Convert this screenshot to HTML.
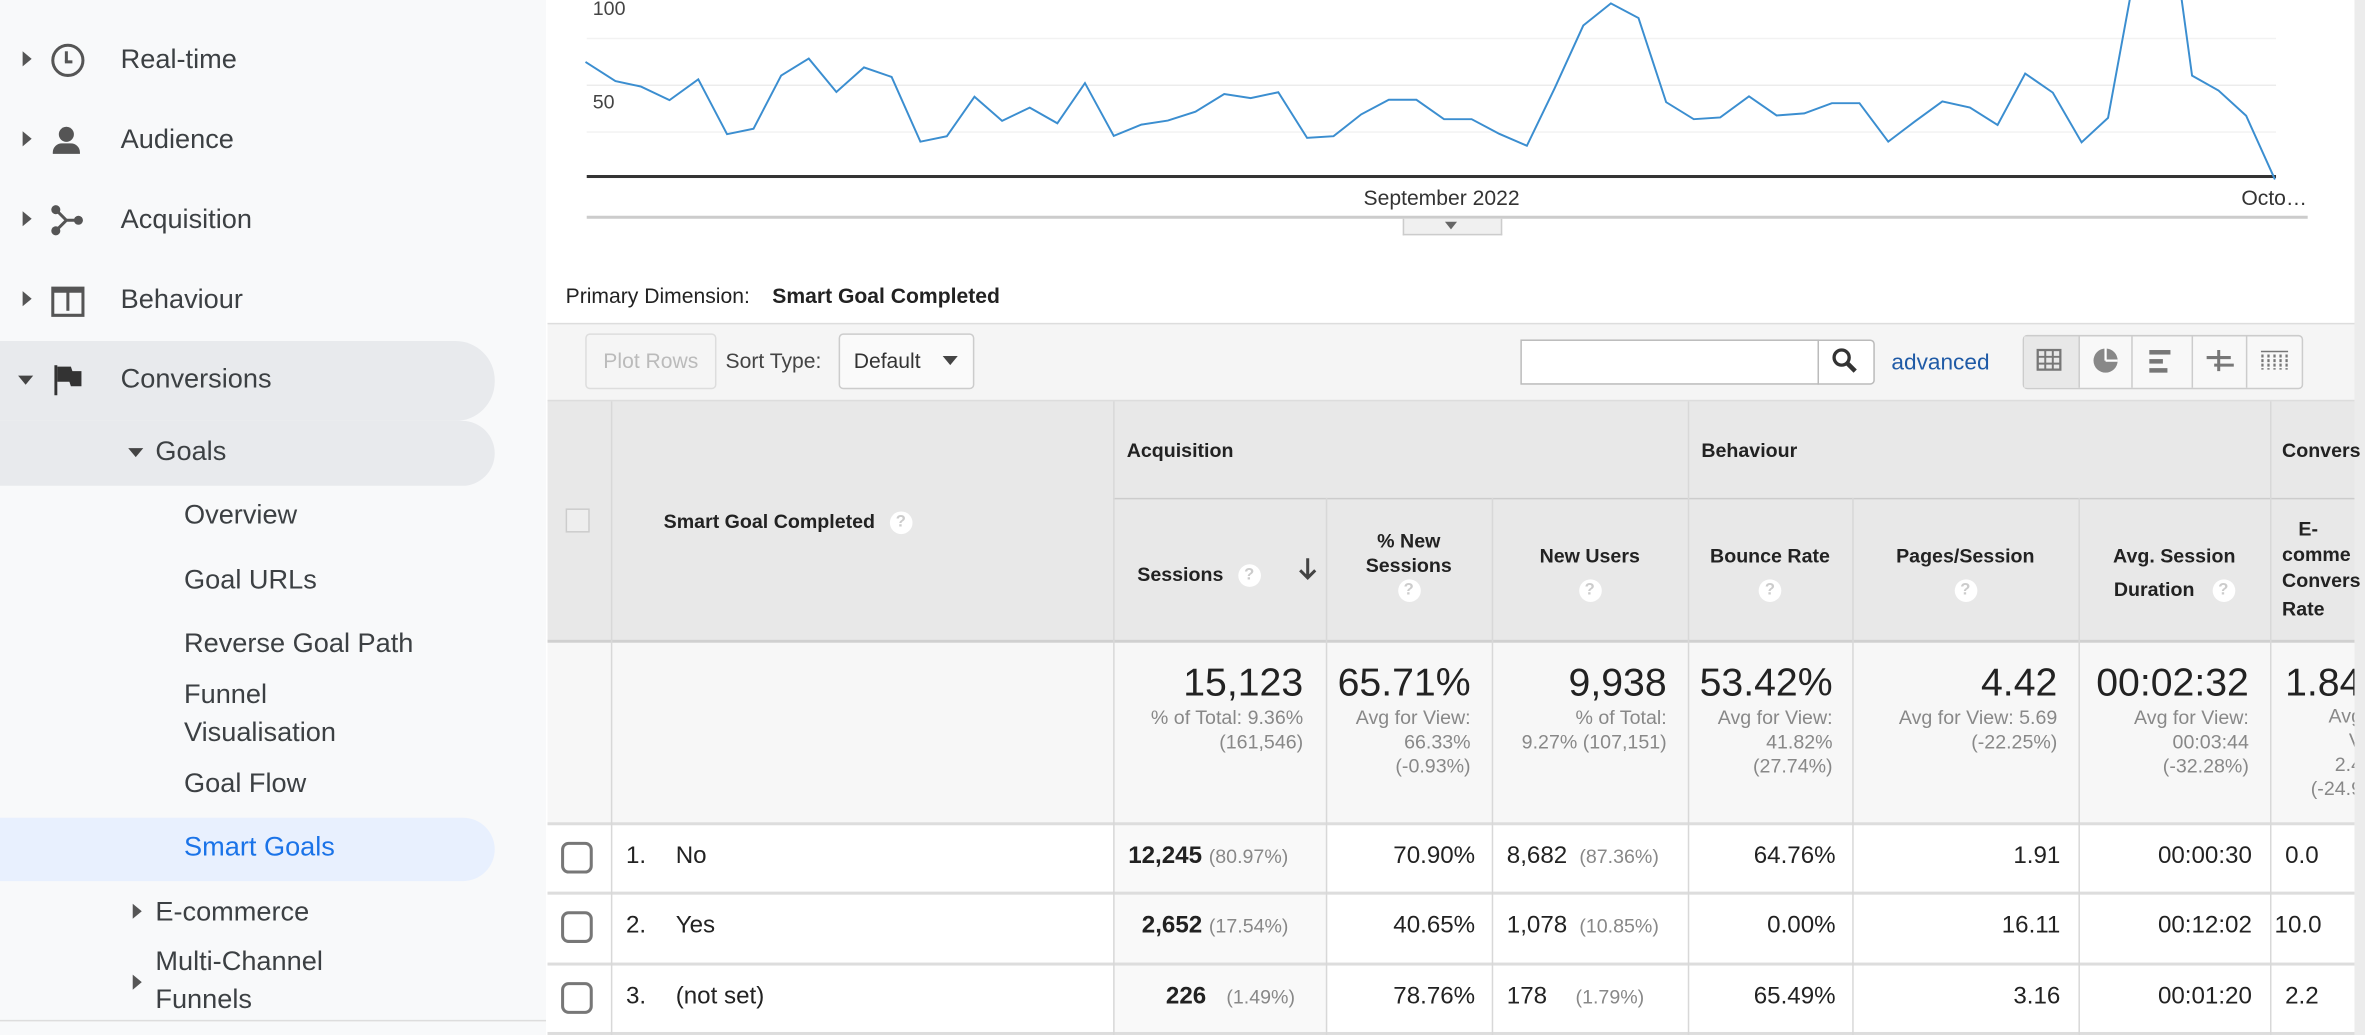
<!DOCTYPE html>
<html><head><meta charset="utf-8"><style>
html,body{margin:0;padding:0;width:2365px;height:1035px;overflow:hidden;background:#fff}
#r{position:absolute;left:0;top:0;width:1568px;height:686px;transform:scale(1.5083,1.5087);transform-origin:0 0;font-family:"Liberation Sans",sans-serif;color:#222}
.a{position:absolute;white-space:nowrap}
.nav{font-size:18px;color:#3c4043}
.sub{font-size:18px;color:#3c4043}
.tri{position:absolute;width:0;height:0}
.h{font-size:13px;font-weight:bold;color:#222}
.q{display:inline-block;width:15px;height:15px;border-radius:50%;background:#fff;color:#ccc;font-size:11px;text-align:center;line-height:15px;font-weight:bold;vertical-align:middle}
.big{font-size:26px;color:#222}
.sm{font-size:13px;color:#888;line-height:16px}
.d{font-size:16px;color:#222}
.g{font-size:13px;color:#888}
.vl{position:absolute;width:1px;background:#d8d8d8}
.hl{position:absolute;height:1px;background:#ddd}
.cb{position:absolute;width:17px;height:17px;border:2px solid #777;border-radius:5px;background:#fff}
</style></head><body><div id="r">
<div class="a" style="left:0;top:0;width:362px;height:686px;background:#f8f9fa"></div>
<div class="a" style="left:0;top:226px;width:328px;height:53px;background:#e8eaed;border-radius:0 26px 26px 0"></div>
<div class="a" style="left:0;top:279px;width:328px;height:43px;background:#e8eaed;border-radius:0 22px 22px 0"></div>
<div class="a" style="left:0;top:542px;width:328px;height:42px;background:#e8f0fe;border-radius:0 21px 21px 0"></div>
<div class="tri" style="left:15px;top:34px;border-left:6px solid #555;border-top:5px solid transparent;border-bottom:5px solid transparent"></div>
<div class="tri" style="left:15px;top:87px;border-left:6px solid #555;border-top:5px solid transparent;border-bottom:5px solid transparent"></div>
<div class="tri" style="left:15px;top:140px;border-left:6px solid #555;border-top:5px solid transparent;border-bottom:5px solid transparent"></div>
<div class="tri" style="left:15px;top:193px;border-left:6px solid #555;border-top:5px solid transparent;border-bottom:5px solid transparent"></div>
<div class="tri" style="left:12px;top:249px;border-top:6px solid #444;border-left:5px solid transparent;border-right:5px solid transparent"></div>
<div class="tri" style="left:85px;top:297px;border-top:6px solid #444;border-left:5px solid transparent;border-right:5px solid transparent"></div>
<div class="tri" style="left:88px;top:599px;border-left:6px solid #555;border-top:5px solid transparent;border-bottom:5px solid transparent"></div>
<div class="tri" style="left:88px;top:646px;border-left:6px solid #555;border-top:5px solid transparent;border-bottom:5px solid transparent"></div>
<div class="a" style="left:34px;top:29px;width:18px;height:18px;border:2px solid #555;border-radius:50%"></div>
<div class="a" style="left:43px;top:34px;width:2px;height:7px;background:#555"></div>
<div class="a" style="left:43px;top:40px;width:5px;height:2px;background:#555"></div>
<div class="a" style="left:39px;top:84px;width:10px;height:10px;border-radius:50%;background:#555"></div>
<div class="a" style="left:35px;top:95px;width:18px;height:7px;border-radius:6px 6px 0 0;background:#555"></div>
<svg class="a" style="left:33px;top:135px" width="24" height="22"><circle cx="4" cy="4" r="3" fill="#555"/><circle cx="4" cy="18" r="3" fill="#555"/><circle cx="19" cy="11" r="3" fill="#555"/><path d="M4 4 L11 11 L19 11 M11 11 L4 18" stroke="#555" stroke-width="2" fill="none"/></svg>
<div class="a" style="left:34px;top:190px;width:18px;height:14px;border:2px solid #555;border-top-width:4px"></div>
<div class="a" style="left:44px;top:193px;width:2px;height:13px;background:#555"></div>
<svg class="a" style="left:36px;top:242px" width="20" height="22"><path d="M1 0 V20" stroke="#333" stroke-width="2"/><path d="M2 1 H11 L12 4 H18 V14 H11 L10 11 H2Z" fill="#333"/></svg>
<div class="a nav" style="left:80px;top:29px">Real-time</div>
<div class="a nav" style="left:80px;top:82px">Audience</div>
<div class="a nav" style="left:80px;top:135px">Acquisition</div>
<div class="a nav" style="left:80px;top:188px">Behaviour</div>
<div class="a nav" style="left:80px;top:241px">Conversions</div>
<div class="a nav" style="left:103px;top:289px">Goals</div>
<div class="a sub" style="left:122px;top:331px">Overview</div>
<div class="a sub" style="left:122px;top:374px">Goal URLs</div>
<div class="a sub" style="left:122px;top:416px">Reverse Goal Path</div>
<div class="a sub" style="left:122px;top:450px">Funnel</div>
<div class="a sub" style="left:122px;top:475px">Visualisation</div>
<div class="a sub" style="left:122px;top:509px">Goal Flow</div>
<div class="a sub" style="left:122px;top:551px;color:#1a73e8">Smart Goals</div>
<div class="a sub" style="left:103px;top:594px">E-commerce</div>
<div class="a sub" style="left:103px;top:627px">Multi-Channel</div>
<div class="a sub" style="left:103px;top:652px">Funnels</div>
<div class="a" style="left:0;top:676px;width:362px;height:1px;background:#ddd"></div>
<div class="a" style="left:1561px;top:0;width:7px;height:686px;background:#ececec"></div>
<div class="a" style="left:389px;top:25px;width:1120px;height:1px;background:#f2f2f2"></div>
<div class="a" style="left:389px;top:56px;width:1120px;height:1px;background:#ececec"></div>
<div class="a" style="left:389px;top:87px;width:1120px;height:1px;background:#f2f2f2"></div>
<div class="a" style="left:389px;top:116px;width:1120px;height:2px;background:#333"></div>
<div class="a" style="left:393px;top:-2px;font-size:13px;color:#444">100</div>
<div class="a" style="left:393px;top:60px;font-size:13px;color:#444">50</div>
<svg class="a" style="left:0;top:0" width="1568" height="130"><g transform="matrix(0.763,0,0,0.2257,371.4,0)"><polyline vector-effect="non-scaling-stroke" fill="none" stroke="#3b8ed0" stroke-width="1.3" points="22,182 48,238 70,254 95,294 120,233 145,394 168,378 192,222 216,172 240,270 264,198 288,226 313,416 336,400 360,284 384,355 408,316 432,362 456,244 481,399 505,366 528,354 552,328 577,276 600,288 624,271 649,405 672,400 696,336 720,293 744,293 768,350 792,350 816,393 840,428 864,260 889,75 913,10 937,53 961,300 985,350 1008,345 1033,283 1057,339 1081,333 1105,303 1129,303 1154,416 1177,357 1201,298 1225,316 1249,367 1273,216 1297,272 1322,418 1345,346 1366,-40 1370,-200 1405,-200 1409,0 1418,222 1441,266 1465,340 1490,527"/></g></svg>
<div class="a" style="left:904px;top:123px;font-size:14px;color:#333">September 2022</div>
<div class="a" style="left:1486px;top:123px;font-size:14px;color:#333">Octo…</div>
<div class="a" style="left:389px;top:143px;width:1141px;height:2px;background:#ccc"></div>
<div class="a" style="left:930px;top:145px;width:64px;height:10px;background:#f0f0f0;border:1px solid #ccc;border-top:none"></div>
<div class="tri" style="left:958px;top:147px;border-top:5px solid #666;border-left:4px solid transparent;border-right:4px solid transparent"></div>
<div class="a" style="left:375px;top:188px;font-size:14px;color:#222">Primary Dimension:</div>
<div class="a" style="left:512px;top:188px;font-size:14px;font-weight:bold;color:#222">Smart Goal Completed</div>
<div class="a" style="left:363px;top:214px;width:1198px;height:50px;background:#f5f5f5;border-top:1px solid #ddd;border-bottom:2px solid #ddd"></div>
<div class="a" style="left:388px;top:221px;width:85px;height:35px;border:1px solid #ddd;border-radius:3px;font-size:14px;color:#bbb;text-align:center;line-height:35px">Plot Rows</div>
<div class="a" style="left:481px;top:231px;font-size:14px;color:#444">Sort Type:</div>
<div class="a" style="left:556px;top:221px;width:88px;height:35px;border:1px solid #ccc;border-radius:3px;background:#fafafa;font-size:14px;color:#333;line-height:35px;text-indent:9px">Default</div>
<div class="tri" style="left:625px;top:236px;border-top:6px solid #444;border-left:5px solid transparent;border-right:5px solid transparent"></div>
<div class="a" style="left:1008px;top:225px;width:196px;height:28px;border:1px solid #bbb;background:#fff"></div>
<div class="a" style="left:1205px;top:225px;width:36px;height:28px;border:1px solid #bbb;background:#fff;border-radius:0 3px 3px 0"></div>
<svg class="a" style="left:1214px;top:230px" width="18" height="18"><circle cx="7" cy="7" r="5" stroke="#333" stroke-width="2.2" fill="none"/><path d="M11 11 L16 16" stroke="#333" stroke-width="3"/></svg>
<div class="a" style="left:1254px;top:232px;font-size:15px;color:#1f5aa6">advanced</div>
<div class="a" style="left:1341px;top:222px;width:184px;height:34px;border:1px solid #ccc;border-radius:3px;background:#f8f8f8"></div>
<div class="a" style="left:1342px;top:223px;width:36px;height:34px;background:#e8e8e8"></div>
<div class="vl" style="left:1378px;top:223px;height:34px;background:#ccc"></div>
<div class="vl" style="left:1413px;top:223px;height:34px;background:#ccc"></div>
<div class="vl" style="left:1453px;top:223px;height:34px;background:#ccc"></div>
<div class="vl" style="left:1489px;top:223px;height:34px;background:#ccc"></div>
<svg class="a" style="left:1350px;top:231px" width="18" height="16"><rect x="1" y="1" width="15" height="13" fill="none" stroke="#777" stroke-width="1.5"/><path d="M1 5.5H16M1 10H16M6 1V14M11 1V14" stroke="#777" stroke-width="1.3"/></svg>
<svg class="a" style="left:1387px;top:230px" width="18" height="18"><circle cx="9" cy="9" r="8" fill="#888"/><path d="M9 9 V1 M9 9 H17" stroke="#fff" stroke-width="1.5"/></svg>
<div class="a" style="left:1425px;top:232px;width:14px;height:3px;background:#777"></div>
<div class="a" style="left:1425px;top:238px;width:9px;height:3px;background:#777"></div>
<div class="a" style="left:1425px;top:244px;width:12px;height:3px;background:#777"></div>
<svg class="a" style="left:1462px;top:230px" width="20" height="18"><path d="M1 7H17M6 12H19M9 2V16" stroke="#777" stroke-width="2"/></svg>
<svg class="a" style="left:1498px;top:232px" width="20" height="14"><path d="M1 1H19" stroke="#777"/><path d="M2 3V13M6 3V13M10 3V13M14 3V13M18 3V13" stroke="#777" stroke-width="1.5" stroke-dasharray="2 1"/></svg>
<div class="a" style="left:363px;top:266px;width:1198px;height:158px;background:#e8e8e8"></div>
<div class="a" style="left:363px;top:424px;width:1198px;height:121px;background:#f7f7f7"></div>
<div class="a" style="left:738px;top:545px;width:141px;height:140px;background:#f9f9f9"></div>
<div class="hl" style="left:738px;top:330px;width:823px;background:#ccc"></div>
<div class="hl" style="left:363px;top:424px;width:1198px;height:2px;background:#d0d0d0"></div>
<div class="hl" style="left:363px;top:545px;width:1198px;height:2px"></div>
<div class="hl" style="left:363px;top:591px;width:1198px;height:2px"></div>
<div class="hl" style="left:363px;top:638px;width:1198px;height:2px"></div>
<div class="hl" style="left:363px;top:684px;width:1198px;height:2px"></div>
<div class="vl" style="left:405px;top:266px;height:420px"></div>
<div class="vl" style="left:738px;top:266px;height:420px"></div>
<div class="vl" style="left:879px;top:330px;height:356px"></div>
<div class="vl" style="left:989px;top:330px;height:356px"></div>
<div class="vl" style="left:1119px;top:266px;height:420px"></div>
<div class="vl" style="left:1228px;top:330px;height:356px"></div>
<div class="vl" style="left:1378px;top:330px;height:356px"></div>
<div class="vl" style="left:1505px;top:266px;height:420px"></div>
<div class="a" style="left:375px;top:337px;width:14px;height:14px;border:1px solid #ccc;background:#eee"></div>
<div class="a h" style="left:440px;top:338px">Smart Goal Completed <span class="q" style="margin-left:6px">?</span></div>
<div class="a h" style="left:747px;top:291px">Acquisition</div>
<div class="a h" style="left:1128px;top:291px">Behaviour</div>
<div class="a h" style="left:1513px;top:291px">Convers</div>
<div class="a h" style="left:754px;top:373px">Sessions <span class="q" style="margin-left:6px">?</span></div>
<svg class="a" style="left:860px;top:369px" width="14" height="16"><path d="M7 1V14M2 9L7 14L12 9" stroke="#444" stroke-width="2" fill="none"/></svg>
<div class="a h" style="left:879px;top:351px;width:110px;text-align:center;line-height:16px;white-space:normal">% New<br>Sessions<br><span class="q">?</span></div>
<div class="a h" style="left:989px;top:358px;width:130px;text-align:center;line-height:22px">New Users<br><span class="q">?</span></div>
<div class="a h" style="left:1119px;top:358px;width:109px;text-align:center;line-height:22px">Bounce Rate<br><span class="q">?</span></div>
<div class="a h" style="left:1228px;top:358px;width:150px;text-align:center;line-height:22px">Pages/Session<br><span class="q">?</span></div>
<div class="a h" style="left:1378px;top:358px;width:127px;text-align:center;line-height:22px">Avg. Session<br>Duration <span class="q" style="margin-left:8px">?</span></div>
<div class="a h" style="left:1513px;top:342px;line-height:17px">&nbsp;&nbsp;&nbsp;E-<br>comme<br>Convers<br><span style="line-height:22px">Rate</span></div>
<div class="a" style="left:738px;top:437px;width:126px;text-align:right"><div class="big">15,123</div><div class="sm">% of Total: 9.36%<br>(161,546)</div></div>
<div class="a" style="left:879px;top:437px;width:96px;text-align:right"><div class="big">65.71%</div><div class="sm">Avg for View:<br>66.33%<br>(-0.93%)</div></div>
<div class="a" style="left:989px;top:437px;width:116px;text-align:right"><div class="big">9,938</div><div class="sm">% of Total:<br>9.27% (107,151)</div></div>
<div class="a" style="left:1119px;top:437px;width:96px;text-align:right"><div class="big">53.42%</div><div class="sm">Avg for View:<br>41.82%<br>(27.74%)</div></div>
<div class="a" style="left:1228px;top:437px;width:136px;text-align:right"><div class="big">4.42</div><div class="sm">Avg for View: 5.69<br>(-22.25%)</div></div>
<div class="a" style="left:1378px;top:437px;width:113px;text-align:right"><div class="big">00:02:32</div><div class="sm">Avg for View:<br>00:03:44<br>(-32.28%)</div></div>
<div class="a" style="left:1506px;top:437px;width:55px;height:105px;overflow:hidden"><div class="big" style="position:absolute;left:9px;top:0">1.84</div><div class="sm" style="position:absolute;left:16px;top:30px;text-align:right;width:44px">Avg<br>V<br>2.4<br>(-24.9</div></div>
<div class="cb" style="left:372px;top:558px"></div>
<div class="cb" style="left:372px;top:604px"></div>
<div class="cb" style="left:372px;top:651px"></div>
<div class="a d" style="left:415px;top:559px">1.</div><div class="a d" style="left:448px;top:559px">No</div>
<div class="a d" style="left:415px;top:605px">2.</div><div class="a d" style="left:448px;top:605px">Yes</div>
<div class="a d" style="left:415px;top:652px">3.</div><div class="a d" style="left:448px;top:652px">(not set)</div>
<div class="a d" style="left:748px;top:559px"><b>12,245</b> <span class="g">(80.97%)</span></div>
<div class="a d" style="left:757px;top:605px"><b>2,652</b> <span class="g">(17.54%)</span></div>
<div class="a d" style="left:773px;top:652px"><b>226</b> &nbsp;&nbsp;<span class="g">(1.49%)</span></div>
<div class="a d" style="left:879px;top:559px;width:99px;text-align:right">70.90%</div>
<div class="a d" style="left:879px;top:605px;width:99px;text-align:right">40.65%</div>
<div class="a d" style="left:879px;top:652px;width:99px;text-align:right">78.76%</div>
<div class="a d" style="left:999px;top:559px">8,682 <span class="g">&nbsp;(87.36%)</span></div>
<div class="a d" style="left:999px;top:605px">1,078 <span class="g">&nbsp;(10.85%)</span></div>
<div class="a d" style="left:999px;top:652px">178 <span class="g">&nbsp;&nbsp;&nbsp;&nbsp;(1.79%)</span></div>
<div class="a d" style="left:1119px;top:559px;width:98px;text-align:right">64.76%</div>
<div class="a d" style="left:1119px;top:605px;width:98px;text-align:right">0.00%</div>
<div class="a d" style="left:1119px;top:652px;width:98px;text-align:right">65.49%</div>
<div class="a d" style="left:1228px;top:559px;width:138px;text-align:right">1.91</div>
<div class="a d" style="left:1228px;top:605px;width:138px;text-align:right">16.11</div>
<div class="a d" style="left:1228px;top:652px;width:138px;text-align:right">3.16</div>
<div class="a d" style="left:1378px;top:559px;width:115px;text-align:right">00:00:30</div>
<div class="a d" style="left:1378px;top:605px;width:115px;text-align:right">00:12:02</div>
<div class="a d" style="left:1378px;top:652px;width:115px;text-align:right">00:01:20</div>
<div class="a" style="left:1506px;top:545px;width:55px;height:140px;overflow:hidden">
<div class="a d" style="left:9px;top:14px">0.0</div><div class="a d" style="left:2px;top:60px">10.0</div><div class="a d" style="left:9px;top:107px">2.2</div></div>
</div></body></html>
